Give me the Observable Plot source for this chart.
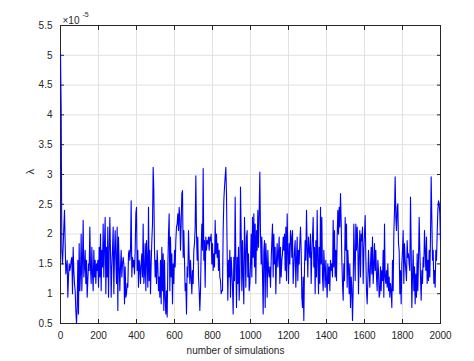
<!DOCTYPE html>
<html><head><meta charset="utf-8">
<script src="https://cdn.jsdelivr.net/npm/d3@7"></script>
<script src="https://cdn.jsdelivr.net/npm/@observablehq/plot@0.6"></script>
<style>body{margin:0;background:#fff;}</style>
</head><body><div id="chart"></div>
<script>
// λ trace (units of 1e-5), thinned samples, in order of simulation
const traceA = [5.02,4.10,1.73,1.50,1.78,2.12,2.40,1.84,1.33,1.45,
1.56,0.94,1.28,1.50,1.39,1.45,1.56,1.61,1.00,1.78,
1.39,1.17,1.05,0.72,0.50,0.77,1.56,0.66,1.84,1.05,
1.33,2.00,1.05,1.56,2.23,1.28,1.45,1.73,1.17,1.56,
0.94,1.22,1.50,1.39,2.12,1.45,1.17,1.78,1.33,1.05,
1.73,1.28,1.56,1.17,1.50,1.39,1.56,1.11,1.78,1.28,
2.00,1.05,1.73,1.45,2.17,1.28,1.84,2.28,1.00,1.78,
1.28,2.12,0.94,1.67,2.28,1.73,0.94,1.45,1.73,2.12,
1.00,1.67,2.06,1.56,1.17,2.12,0.72,1.95,1.50,1.05,
1.45,1.73,1.28,1.50,1.61];
const traceB = [1.50,0.83,1.45,0.94,1.00,1.17,1.11,1.67,1.73,1.56,
1.73,2.56,1.28,1.61,1.45,1.56,1.33,1.73,2.34,2.45,
1.39,1.73,1.11,1.56,1.45,1.17,1.50,1.67,1.28,2.17,
1.17,1.33,1.84,1.05,1.89,1.56,1.11,2.45,1.22,1.73,
1.00,1.50,1.89,2.17,3.12,2.73,1.73,1.28,1.56,1.17,
1.73,1.45,1.05,1.28,0.94,1.56,0.83,1.78,1.05,1.67,
0.72,1.56,0.94,0.66,1.05,0.61,1.45,2.00,2.34,1.05,
1.95,1.28,1.67,0.83,1.50,1.17,1.73,1.45,1.89,2.12,
2.17,2.34,2.06,2.45,2.28,1.73,2.17,2.68,2.73,1.61,
2.06];
const traceC = [1.56,1.05,1.17,0.66,1.45,1.28,2.06,1.61,1.17,1.56,
1.28,1.00,1.39,1.17,1.73,1.84,2.12,
2.98,2.00,1.56,1.95,1.28,1.05,0.72,1.05,1.73,2.17,
1.73,3.10,1.56,1.89,1.11,1.95,1.73,1.89,1.84,1.95,
1.73,1.95,1.89,2.00,1.50,1.84,1.39,1.67,1.45,2.23,
1.67,2.00,1.61,1.84,1.39,1.73,1.28,1.22,1.00,1.05,
1.05,2.06,2.56,2.79,2.96,3.12,2.68,1.67,0.89,1.56,
1.28,1.73,0.94,1.61,1.39,1.11,0.66,1.61,1.22,2.62,
1.56,0.77,1.61,1.17,1.78,0.89,1.28,2.79,2.00,1.05,
1.89,1.28,0.83,2.28,1.73,1.11,1.95,2.06,1.28,1.67,
1.05,1.17,1.50,2.00];
const traceD = [1.28,2.28,1.61,2.34,1.45,2.17,1.17,2.06,1.73,2.40,
1.78,2.34,3.04,2.00,1.50,1.95,1.33,0.66,1.73,1.89,
0.77,1.84,1.56,0.94,1.73,1.39,1.28,1.45,1.11,1.56,
1.89,2.17,1.28,2.00,1.50,1.78,1.00,1.56,1.84,1.45,
1.67,1.95,1.17,1.78,1.28,1.56,1.67,1.95,1.73,2.00,
1.39,2.12,1.22,2.34,1.73,1.17,1.84,1.50,2.06,1.95,
1.61,2.06,1.17,1.45,1.73,1.89,1.11,1.56,1.95,1.22,
1.73,1.50,1.84,2.12,1.73,0.94,0.77,1.28,0.55,1.45,
1.89,1.56,2.40,1.78,1.28,1.95,1.73,1.61,2.00,1.17,
1.67,1.95,2.28,1.45,1.78,1.00];
const traceE = [1.89,1.28,2.40,1.61,1.00,1.78,1.17,2.45,1.50,2.28,
1.28,1.05,1.73,1.45,1.11,1.56,1.22,0.94,1.50,1.17,
1.45,1.05,1.56,1.39,1.50,1.28,2.23,1.45,2.06,1.28,
1.73,1.22,1.95,2.40,2.00,2.45,2.12,2.68,2.23,1.56,
1.17,0.89,1.50,1.22,2.28,1.73,2.17,1.11,1.73,1.45,
1.00,1.50,0.77,1.28,1.11,0.55,1.05,2.17,1.61,1.22,
2.17,1.73,2.12,1.78,1.00,1.67,2.06,1.28,2.00,1.89,
2.12,1.17,1.73,2.00,2.31,1.61,1.05,0.83,1.22,1.73,
1.39,1.11,1.50,1.78,1.33,1.95,1.17,1.45,1.84,1.39,
1.73,1.28,1.05,1.56,1.39,0.94];
const traceF = [1.00,1.45,1.05,1.39,1.22,1.73,0.94,2.17,1.28,1.17,
1.39,1.11,1.50,1.05,1.28,0.94,1.17,1.05,0.77,1.56,
1.05,2.00,2.40,2.96,2.28,2.06,2.45,2.51,1.84,1.73,
1.00,1.39,0.83,1.50,1.73,2.06,1.17,1.84,1.56,1.39,
1.22,1.89,1.61,1.67,1.50,1.39,2.62,1.78,0.77,1.28,
1.73,1.05,1.45,0.83,1.33,0.94,1.67,1.05,1.56,2.28,
1.73,1.28,0.89,1.39,1.17,1.61,1.45,2.06,1.73,1.39,
1.95,1.17,1.56,1.22,1.73,1.28,1.95,2.96,2.28,1.56,
1.73,1.17,1.39,1.11,1.73,1.56,2.00,2.40,2.56,2.51,
2.34,1.89];

const nSimulations = 2000;
const xTicks = [0,200,400,600,800,1000,1200,1400,1600,1800,2000];
const yTicks = [0.5,1,1.5,2,2.5,3,3.5,4,4.5,5,5.5];

const lambda = [...traceA, ...traceB, ...traceC, ...traceD, ...traceE, ...traceF];
const data = lambda.map((v, i) => ({sim: i * nSimulations / (lambda.length - 1), lambda: v}));

const ink = "#262626";
const chart = Plot.plot({
  width: 474, height: 361,
  marginLeft: 60, marginRight: 34, marginTop: 25, marginBottom: 38,
  x: {domain: [0, 2000]},
  y: {domain: [0.5, 5.5]},
  style: {fontFamily: "'Liberation Sans', Arial, sans-serif", fontSize: "10px", color: ink, background: "white"},
  marks: [
    Plot.gridX(xTicks, {stroke: "#e2e2e2", strokeOpacity: 1}),
    Plot.gridY(yTicks, {stroke: "#e2e2e2", strokeOpacity: 1}),
    Plot.frame({stroke: ink}),
    Plot.axisX(xTicks, {anchor: "bottom", tickSize: -4, tickPadding: 12, label: null, tickFormat: d => String(d), stroke: ink}),
    Plot.axisX(xTicks, {anchor: "top", tickSize: -4, tickFormat: () => "", label: null, stroke: ink}),
    Plot.axisY(yTicks, {anchor: "left", tickSize: -4, tickPadding: 12, label: null, tickFormat: d => String(d), stroke: ink}),
    Plot.axisY(yTicks, {anchor: "right", tickSize: -4, tickFormat: () => "", label: null, stroke: ink}),
    Plot.line(data, {x: "sim", y: "lambda", stroke: "#0000ff", strokeWidth: 1.1}),
    Plot.text(["number of simulations"], {frameAnchor: "bottom", dy: 30, dx: -15, fontSize: 10, fill: ink}),
    Plot.text(["λ"], {frameAnchor: "left", dx: -30, rotate: -90, fontSize: 11, fill: ink}),
    Plot.text(["×10"], {frameAnchor: "top-left", dx: 2, dy: -9, textAnchor: "start", fontSize: 10, fill: ink}),
    Plot.text(["-5"], {frameAnchor: "top-left", dx: 22, dy: -13, textAnchor: "start", fontSize: 7, fill: ink})
  ]
});
document.getElementById("chart").appendChild(chart);
</script>
</body></html>
